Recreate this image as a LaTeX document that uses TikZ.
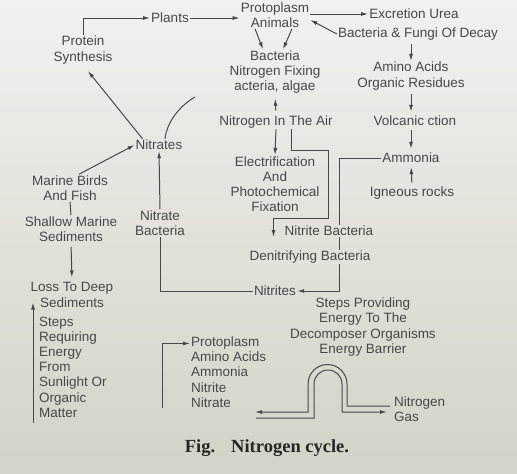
\documentclass[tikz,border=0pt]{standalone}
\usepackage{fontspec}
\setmainfont{Liberation Sans}
\newfontfamily\capfont{Liberation Serif}
\usepackage{xcolor}
\usetikzlibrary{arrows.meta}
\definecolor{ink}{HTML}{484848}
\definecolor{paper}{HTML}{F1F1EE}
\definecolor{papershade}{HTML}{D3D3C8}
\pgfdeclarelayer{bg}
\pgfsetlayers{bg,main}

\begin{document}
\begin{tikzpicture}[x=1pt,y=-1pt,>={Latex[length=7pt,width=4pt]},
    lbl/.style={font=\fontsize{13.5}{15.2}\selectfont,text=ink,align=center,inner sep=1pt},
    knock/.style={lbl,fill=paper!50!papershade},
    link/.style={draw=ink,line width=1pt}]
    \node[lbl] (protoA) at (275,15) {Protoplasm\\Animals};
    \node[lbl] (plants) at (170,18) {Plants};
    \node[lbl] (protein) at (83,50) {Protein\\Synthesis};
    \node[lbl] (excretion) at (414,14) {Excretion Urea};
    \node[lbl] (decay) at (418,34) {Bacteria \& Fungi Of Decay};
    \node[lbl] (nfix) at (275,72) {Bacteria\\Nitrogen Fixing\\acteria, algae};
    \node[lbl] (air) at (276,122) {Nitrogen In The Air};
    \node[lbl] (elec) at (275,184) {Electrification\\And\\Photochemical\\Fixation};
    \node[lbl] (amino) at (411,76) {Amino Acids\\Organic Residues};
    \node[lbl] (volc) at (415,121) {Volcanic ction};
    \node[lbl] (ammonia) at (411,158) {Ammonia};
    \node[lbl] (igneous) at (412,193) {Igneous rocks};
    \node[lbl] (nitrates) at (159,145) {Nitrates};
    \node[lbl] (birds) at (70,188) {Marine Birds\\And Fish};
    \node[lbl] (shallow) at (71,229) {Shallow Marine\\Sediments};
    \node[lbl] (loss) at (72,295) {Loss To Deep\\Sediments};
    \node[lbl,align=left,anchor=west] (steps) at (38,367) {Steps\\Requiring\\Energy\\From\\Sunlight Or\\Organic\\Matter};
    \node[lbl] (nbact) at (160,223) {Nitrate\\Bacteria};
    \node[knock] (nitriteb) at (329,231) {Nitrite Bacteria};
    \node[knock] (denit) at (310,257) {Denitrifying Bacteria};
    \node[lbl] (nitrites) at (275,291) {Nitrites};
    \node[lbl,align=left,anchor=west] (list) at (190,372) {Protoplasm\\Amino Acids\\Ammonia\\Nitrite\\Nitrate};
    \node[lbl] (provid) at (363,327) {Steps Providing\\Energy To The\\Decomposer Organisms\\Energy Barrier};
    \node[lbl,align=left,anchor=west] (gas) at (393,409) {Nitrogen\\Gas};
    \node[font=\capfont\bfseries\fontsize{18.5}{20}\selectfont,text=black!85] (caption) at (267,448) {Fig.\hspace{16pt}Nitrogen cycle.};

    \coordinate (airbow) at (195,97);
    \coordinate (drop) at (339,0);
    \coordinate (stepsfoot) at (33,423);
    \coordinate (losstip) at ([yshift=6pt]loss.south);
    \coordinate (listfoot) at (162,408);

    \begin{pgfonlayer}{bg}
    \shade[top color=paper,bottom color=papershade] (0,0) rectangle (517,474);
    \draw[link,->] (protein.north) |- (plants.west);
    \draw[link,->] (plants.east) -- (plants.east -| protoA.west);
    \draw[link,->] (excretion.west -| protoA.east) -- (excretion.west);
    \draw[link,->] (decay.west) -- ([yshift=-5pt]protoA.east);
    \draw[link,->] ([xshift=-20pt]protoA.south) -- ([xshift=-12pt]nfix.north);
    \draw[link,->] ([xshift=17pt]protoA.south) -- ([xshift=8pt]nfix.north);
    \draw[link,->,shorten <=4pt,shorten >=4pt] (air.north) -- (nfix.south);
    \draw[link,->] (air.south) -- (elec.north);
    \draw[link,->] ([xshift=15pt]air.south) |- (328,150) -- (328,218) -| ([xshift=-10pt,yshift=-6pt]nitriteb.west);
    \draw[link,->] (ammonia.west) -| (nitrites.east -| drop) -- (nitrites.east);
    \draw[link,->,shorten <=3pt] (decay.south -| amino.north) -- (amino.north);
    \draw[link,->,shorten <=3pt,shorten >=3pt] (amino.south) -- (amino.south |- volc.north);
    \draw[link,->,shorten <=3pt,shorten >=3pt] (volc.south -| ammonia.north) -- (ammonia.north);
    \draw[link,->,shorten <=3pt,shorten >=3pt] (igneous.north) -- (ammonia.south);
    \draw[link,->] (nbact.north) -- (nitrates.south);
    \draw[link] (nitrites.west) -| (nbact.south);
    \draw[link,->] ([xshift=8pt]nitrates.north west) -- ([xshift=5pt,yshift=-6pt]protein.south);
    \draw[link] ([xshift=6pt]nitrates.north) .. controls +(2,-18) and +(-14,8) .. (airbow);
    \draw[link,->] ([xshift=9pt]birds.north) -- (nitrates.west);
    \draw[link] (birds.south) -- (shallow.north);
    \draw[link,->,shorten <=4pt,shorten >=4pt] (shallow.south) -- (loss.north);
    \draw[link,->] (stepsfoot) -- (stepsfoot |- losstip);
    \draw[link,->] (listfoot) |- ([yshift=-8pt]list.north west);
    \draw[link,<-] (255,412) -- (308,412) -- (308,384) arc[start angle=180,end angle=360,radius=19.5] -- (347,406) -- (390,406);
    \draw[link,->] (256,418) -- (314,418) -- (314,384) arc[start angle=180,end angle=360,radius=14] -- (342,412) -- (387,412);
    \end{pgfonlayer}
\end{tikzpicture}
\end{document}
